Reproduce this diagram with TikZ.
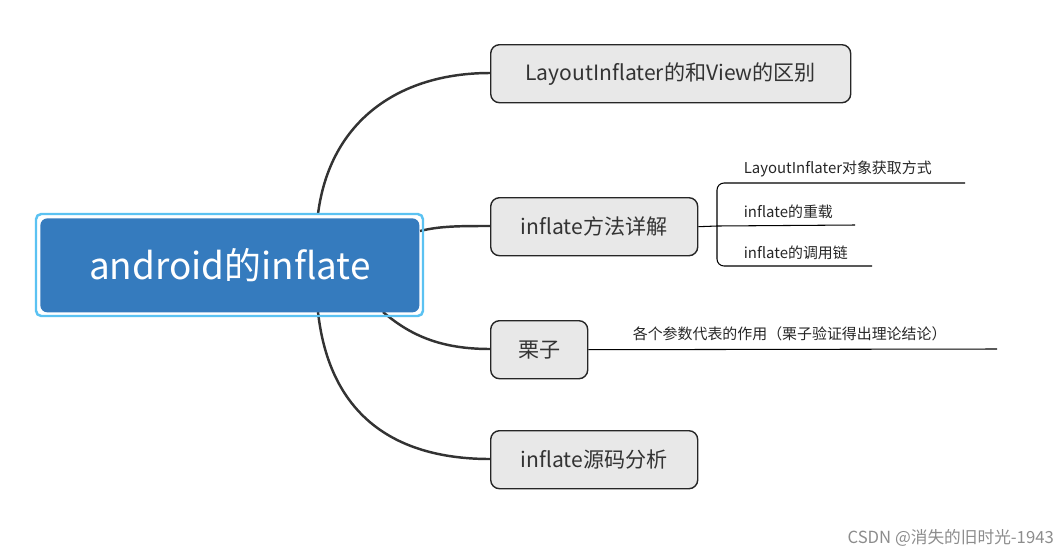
\documentclass[tikz,border=0pt]{standalone}
\usepackage{fontspec}
\setmainfont{Noto Sans CJK SC}
\definecolor{cblue}{HTML}{357BBE}
\definecolor{cedge}{HTML}{5BC2F2}
\begin{document}
\begin{tikzpicture}[x=0.02cm,y=-0.02cm,
  br/.style={draw=black!85,fill=black!9,rounded corners=5pt,line width=0.8pt,anchor=north west,minimum height=58*0.02cm,text=black!80,font=\fontsize{12}{14}\selectfont},
  con/.style={draw=black!80,line width=1.4pt},
  sub/.style={draw=black,line width=0.6pt},
  st/.style={anchor=south west,inner sep=2pt,font=\fontsize{8.5}{10}\selectfont,text=black!85}]
\useasboundingbox (0,0) rectangle (1062,555);
\draw[con] (318,214) .. controls (330,120) and (400,73) .. (490,73);
\draw[con] (420,231) .. controls (440,226) and (460,226) .. (490,226);
\draw[con] (383,312) .. controls (410,335) and (440,349) .. (490,349);
\draw[con] (318,312) .. controls (330,420) and (400,459) .. (490,459);
\draw[draw=cedge,line width=1.4pt,rounded corners=3pt] (36,214) rectangle (423,316);
\node[fill=cblue,draw=none,rounded corners=4pt,minimum width=379*0.02cm,minimum height=94*0.02cm,anchor=north west,text=white,font=\fontsize{21}{24}\selectfont] (c) at (40,218) {android的inflate};
\node[br,minimum width=360*0.02cm] (b1) at (490,44) {LayoutInflater的和View的区别};
\node[br,minimum width=207*0.02cm] (b2) at (490,197) {inflate方法详解};
\node[br,minimum width=97*0.02cm] (b3) at (490,320) {栗子};
\node[br,minimum width=207*0.02cm] (b4) at (490,430) {inflate源码分析};
\coordinate (j) at (717,226);
\draw[sub] (b2.east) -- (j);
\draw[sub,rounded corners=4pt] (965,183) -- (717,183) -- (717,266) -- (872,266);
\draw[sub] (j) -- (855,225);
\node[st] (s1) at (740,181) {LayoutInflater对象获取方式};
\node[st] (s2) at (740,223) {inflate的重载};
\node[st] (s3) at (740,264) {inflate的调用链};
\coordinate (e3) at (997,349);
\draw[sub] (b3.east) -- (e3);
\node[st] (s4) at (629,345) {各个参数代表的作用（栗子验证得出理论结论）};
\node[anchor=east,text=black!45,font=\fontsize{9.5}{11}\selectfont] (w) at (1060,538) {CSDN @消失的旧时光-1943};
\end{tikzpicture}
\end{document}
